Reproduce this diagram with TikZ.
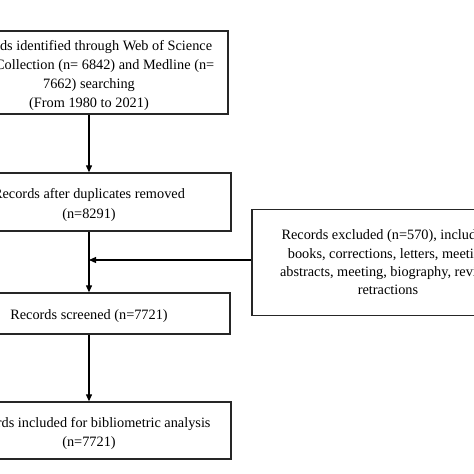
\documentclass[tikz,border=0pt]{standalone}
\usepackage{fontspec}
\setmainfont{Liberation Serif}
\usetikzlibrary{arrows.meta}
\newcommand{\tstr}{\rule{0pt}{16pt}}
\begin{document}
\begin{tikzpicture}[x=1pt,y=-1pt,
  box/.style={draw=black!85, line width=1.3pt, align=center, inner sep=0pt,
    font=\fontsize{14.3}{18.7}\selectfont},
  conn/.style={line width=1.1pt, -{Triangle[length=7pt,width=6pt]}}]
\useasboundingbox (0,0) rectangle (474,474);
\clip (0,0) rectangle (474,474);
\node[box, minimum width=278pt, minimum height=83pt] (b1) at (89,72.5)
  {\tstr Records identified through Web of Science\\Core Collection (n= 6842) and Medline (n=\\7662) searching\\(From 1980 to 2021)};
\node[box, minimum width=284pt, minimum height=58pt, font=\fontsize{14.3}{19.8}\selectfont] (b2) at (89,202)
  {\tstr Records after duplicates removed\\(n=8291)};
\node[box, minimum width=272pt, minimum height=106pt, font=\fontsize{14.3}{18.4}\selectfont] (b3) at (388,262.5)
  {Records excluded (n=570), including\\books, corrections, letters, meeting\\abstracts, meeting, biography, revised\\retractions};
\node[box, minimum width=282pt, minimum height=41pt] (b4) at (89,313.5)
  {\tstr Records screened (n=7721)};
\node[box, minimum width=284pt, minimum height=57pt] (b5) at (89,430.5)
  {\tstr Records included for bibliometric analysis\\(n=7721)};
\coordinate (j) at (b2.south |- 0,260);
\draw[conn] (b1.south) -- (b2.north);
\draw[conn] (b2.south) -- (b4.north);
\draw[conn] (b3.west |- j) -- (j);
\draw[conn] (b4.south) -- (b5.north);
\end{tikzpicture}
\end{document}
